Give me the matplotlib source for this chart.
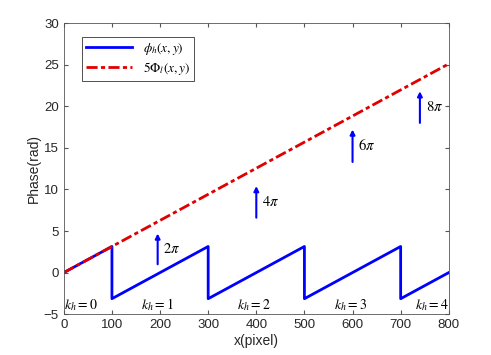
import numpy as np
import matplotlib.pyplot as plt

plt.rcParams['font.family'] = ['Liberation Sans', 'DejaVu Sans']
plt.rcParams['mathtext.fontset'] = 'stix'

# wrapped phase (sawtooth)
wrap_x = [0, 100, 100, 300, 300, 500, 500, 700, 700, 800]
wrap_y = [0, 3.14, -3.14, 3.14, -3.14, 3.14, -3.14, 3.14, -3.14, 0]
# unwrapped low-frequency phase
unwrap_x = [0, 800]
unwrap_y = [0, 25.1]

# arrows (x, y start, y end, label)
arrow_x = [195, 400, 600, 740]
arrow_y0 = [1.0, 6.6, 13.3, 18.0]
arrow_y1 = [4.7, 10.4, 17.2, 21.8]
arrow_labels = [r'$2\pi$', r'$4\pi$', r'$6\pi$', r'$8\pi$']

k_x = [35, 195, 395, 595, 765]
k_labels = [r'$k_h=0$', r'$k_h=1$', r'$k_h=2$', r'$k_h=3$', r'$k_h=4$']

fig = plt.figure(figsize=(4.91, 3.55), dpi=100)
ax = fig.add_axes([0.130, 0.115, 0.784, 0.820])

ax.plot(wrap_x, wrap_y, color='#0000ff', lw=2, label=r'$\phi_h(x,y)$')
ax.plot(unwrap_x, unwrap_y, color='#e00000', lw=2, ls=(0, (4, 1.2, 1.5, 1.2)),
        label=r'$5\Phi_l(x,y)$')

for x, y0, y1, lab in zip(arrow_x, arrow_y0, arrow_y1, arrow_labels):
    ax.annotate('', xy=(x, y1), xytext=(x, y0),
                arrowprops=dict(arrowstyle='-|>', color='#0000ff', lw=1.5,
                                mutation_scale=7, shrinkA=0, shrinkB=0))
    ax.text(x + 12, (y0 + y1) / 2, lab, fontsize=10.5, va='center', ha='left')

for x, lab in zip(k_x, k_labels):
    ax.text(x, -3.9, lab, fontsize=10, ha='center', va='center')

ax.set_xlim(0, 800)
ax.set_ylim(-5, 30)
ax.set_xticks(np.arange(0, 801, 100))
ax.set_yticks(np.arange(-5, 31, 5))
ax.tick_params(direction='in', top=True, right=True, labelsize=9.5, length=3,
               color='#555555', labelcolor='#262626')
for s in ax.spines.values():
    s.set_color('#555555')
    s.set_linewidth(0.6)
ax.set_xlabel('x(pixel)', fontsize=10, labelpad=2, color='#262626')
ax.set_ylabel('Phase(rad)', fontsize=10, labelpad=2, color='#262626')

leg = ax.legend(loc='upper left', bbox_to_anchor=(0.03, 0.975), fontsize=9.5,
                handlelength=3.5, fancybox=False, borderpad=0.3,
                labelspacing=0.2, framealpha=1)
leg.get_frame().set_edgecolor('#333333')
leg.get_frame().set_linewidth(0.6)

plt.savefig('out.png', dpi=100)
